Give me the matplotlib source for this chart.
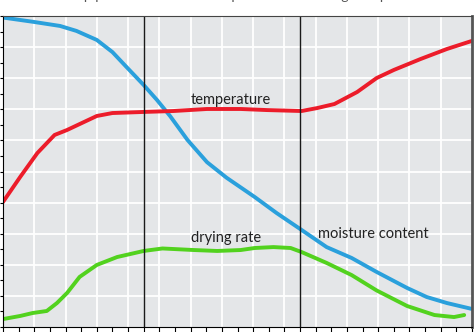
import matplotlib.pyplot as plt

# Readings (x: time, y: relative scale 0-20)
moist_x = [0, 1.9, 3.65, 4.7, 6.0, 7.0, 7.9, 9.0, 9.85, 10.7, 11.8, 13.05, 14.3,
           16.1, 17.5, 19.1, 20.7, 22.3, 23.9, 25.85, 27.1, 28.4, 30]
moist_y = [19.9, 19.63, 19.36, 19.04, 18.46, 17.68, 16.72, 15.56, 14.6, 13.55, 12.03, 10.6, 9.6,
           8.36, 7.33, 6.24, 5.14, 4.44, 3.54, 2.51, 1.93, 1.54, 1.16]

temp_x = [0, 1.1, 2.2, 3.3, 4.1, 4.9, 6.0, 7.0, 9.0, 10.9, 13.05, 15.2, 16.9, 19.1,
          20.1, 21.2, 22.65, 23.9, 25.0, 26.7, 28.4, 30]
temp_y = [8.04, 9.65, 11.19, 12.35, 12.67, 13.05, 13.57, 13.76, 13.83, 13.89, 14.02, 14.02, 13.95, 13.89,
          14.08, 14.34, 15.11, 16.01, 16.53, 17.23, 17.88, 18.4]

rate_x = [0, 1.1, 1.9, 2.8, 3.45, 4.1, 4.9, 6.0, 7.3, 9.0, 10.2, 12.2, 13.7, 15.2, 16.1, 17.3,
          18.4, 19.1, 20.7, 22.3, 23.9, 25.85, 27.6, 28.85, 29.5]
rate_y = [0.51, 0.71, 0.9, 1.03, 1.54, 2.19, 3.22, 3.99, 4.5, 4.89, 5.05, 4.95, 4.89, 4.95, 5.08, 5.14,
          5.08, 4.82, 4.12, 3.34, 2.35, 1.35, 0.77, 0.64, 0.77]

phase_bounds = [9, 19]
phase_names = ["heat-up period", "constant rate period", "falling rate period"]
phase_centers = [4.6, 13.0, 24.0]

plt.rcParams['font.family'] = ['Lato', 'DejaVu Sans']

fig = plt.figure(figsize=(4.74, 3.32), dpi=100)
ax = fig.add_axes([3 / 474, 5 / 332, 469 / 474, 311 / 332])
ax.set_facecolor('#e4e6e8')

line_kw = dict(lw=2.8, solid_capstyle='round', solid_joinstyle='round')
ax.plot(moist_x, moist_y, color='#2aa0dc', **line_kw)
ax.plot(temp_x, temp_y, color='#ec1c2a', **line_kw)
ax.plot(rate_x, rate_y, color='#52d21e', **line_kw)

for b in phase_bounds:
    ax.axvline(b, color='#1a1a1a', lw=1.0)

ax.text(14.6, 14.6, "temperature", ha='center', va='center', fontsize=10.5, color='#222222')
ax.text(14.3, 5.75, "drying rate", ha='center', va='center', fontsize=10.5, color='#222222')
ax.text(23.7, 6.0, "moisture content", ha='center', va='center', fontsize=10.5, color='#222222')

# phase titles sit above the crop, only descenders show
for name, cx in zip(phase_names, phase_centers):
    fig.text(ax.transData.transform((cx, 0))[0] / 474, 1.0, name, ha='center', va='baseline',
             fontsize=10, color='#555555')

ax.set_xlim(0, 30)
ax.set_ylim(0, 20)
ax.set_xticks(range(0, 31))
ax.set_yticks(range(0, 21))
ax.set_xticklabels([])
ax.set_yticklabels([])
ax.tick_params(axis='x', direction='out', length=3.6, width=0.8, color='black')
ax.tick_params(axis='y', direction='out', length=2.2, width=0.8, color='black')

for v in range(2, 30, 2):
    ax.axvline(v, color='white', lw=1.3, zorder=0.5)
for v in range(2, 20, 2):
    ax.axhline(v, color='white', lw=1.3, zorder=0.5)

ax.spines['left'].set_color('black')
ax.spines['bottom'].set_color('black')
ax.spines['top'].set_color('#444444')
ax.spines['right'].set_color('#555555')
ax.spines['right'].set_linewidth(2.0)

fig.savefig('out.png', dpi=100)
